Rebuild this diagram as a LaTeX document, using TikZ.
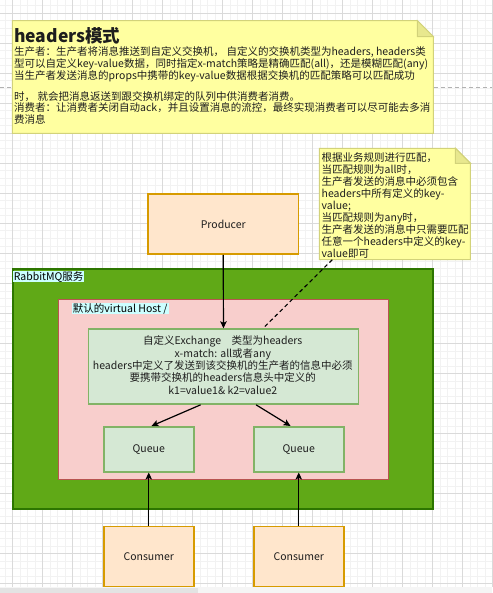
\documentclass[tikz,border=0pt]{standalone}
\usepackage{fontspec}
\setmainfont{Noto Sans CJK SC}
\usetikzlibrary{arrows.meta,calc}
\definecolor{gridmin}{HTML}{F2F2F2}
\definecolor{gridmaj}{HTML}{DADADA}
\definecolor{notefill}{HTML}{FFFFA0}
\definecolor{notestroke}{HTML}{D2D27A}
\definecolor{notefold}{HTML}{E8E88E}
\definecolor{grnfill}{HTML}{60A917}
\definecolor{grnstroke}{HTML}{2D7600}
\definecolor{pinkfill}{HTML}{F8CECC}
\definecolor{pinkstroke}{HTML}{B85450}
\definecolor{lgfill}{HTML}{D5E8D4}
\definecolor{lgstroke}{HTML}{82B366}
\definecolor{orfill}{HTML}{FFE6CC}
\definecolor{orstroke}{HTML}{D79B00}
\definecolor{labelbg}{HTML}{CCFFFF}
\definecolor{txt}{HTML}{1E1E1E}
\tikzset{
  box/.style={rectangle, inner sep=0, anchor=north west},
  orbox/.style={box, fill=orfill, draw=orstroke, line width=1.5pt},
  lgbox/.style={box, fill=lgfill, draw=lgstroke, line width=1.5pt},
  notearea/.style={box},
  arr/.style={line width=1.2pt, -{Stealth[length=7pt,width=6.5pt,inset=1.5pt]}},
  dashline/.style={line width=1.1pt, dash pattern=on 4pt off 3pt},
  lbl/.style={fill=labelbg, inner xsep=1pt, inner ysep=0.5pt, anchor=north west, font=\fontsize{10.5}{12}\selectfont},
  boxtext/.style={font=\fontsize{10.5}{12}\selectfont, text=txt},
}
\begin{document}
\begin{tikzpicture}[x=1pt,y=-1pt]
\useasboundingbox (0,0) rectangle (492,593);
\fill[white] (0,0) rectangle (492,593);
% grid
\foreach \i in {-1,...,64} {\draw[gridmin, line width=0.6pt] ({12.3+7.5*\i},0) -- ({12.3+7.5*\i},587);}
\foreach \i in {-1,...,76} {\draw[gridmin, line width=0.6pt] (0,{13.3+7.5*\i}) -- (492,{13.3+7.5*\i});}
\foreach \i in {0,...,16} {\draw[gridmaj, line width=0.8pt] ({12.3+30*\i},0) -- ({12.3+30*\i},587);}
\foreach \i in {0,...,19} {\draw[gridmaj, line width=0.8pt] (0,{13.3+30*\i}) -- (492,{13.3+30*\i});}
% page break line
\draw[gray!60, line width=0.8pt, dash pattern=on 4pt off 3pt] (0,87) -- (492,87);
% scrollbar strip
\fill[gray!8] (0,587) rectangle (492,593);
\fill[gray!22] (0,588) rectangle (198,593);

% note 1
\node[notearea, minimum width=420.7pt, minimum height=112.3pt] (note1) at (12.3,20.7) {};
\filldraw[fill=notefill, draw=notestroke, line width=1pt]
  (note1.north west) -- ($(note1.north east)+(-16,0)$) -- ($(note1.north east)+(0,16)$) -- (note1.south east) -- (note1.south west) -- cycle;
\filldraw[fill=notefold, draw=notestroke, line width=1pt]
  ($(note1.north east)+(-16,0)$) -- ($(note1.north east)+(-16,16)$) -- ($(note1.north east)+(0,16)$) -- cycle;
\node[anchor=base west, inner sep=0, text=txt, font=\bfseries\fontsize{17.5}{19}\selectfont] (title) at (14,43) {headers模式};
\node[anchor=north west, inner sep=0, align=left, text=txt, font=\fontsize{10.5}{11.7}\selectfont] (body1) at (14,46.5)
 {生产者：生产者将消息推送到自定义交换机， 自定义的交换机类型为headers, headers类\\
  型可以自定义key-value数据，同时指定x-match策略是精确匹配(all)，还是模糊匹配(any)\\
  当生产者发送消息的props中携带的key-value数据根据交换机的匹配策略可以匹配成功\\[9.3pt]
  时， 就会把消息返送到跟交换机绑定的队列中供消费者消费。\\
  消费者：让消费者关闭自动ack，并且设置消息的流控，最终实现消费者可以尽可能去多消\\
  费消息};

% note 2
\node[notearea, minimum width=150.7pt, minimum height=111pt] (note2) at (319.3,148.3) {};
\filldraw[fill=notefill, draw=notestroke, line width=1pt]
  (note2.north west) -- ($(note2.north east)+(-15,0)$) -- ($(note2.north east)+(0,15)$) -- (note2.south east) -- (note2.south west) -- cycle;
\filldraw[fill=notefold, draw=notestroke, line width=1pt]
  ($(note2.north east)+(-15,0)$) -- ($(note2.north east)+(-15,15)$) -- ($(note2.north east)+(0,15)$) -- cycle;
\node[anchor=north west, inner sep=0, align=left, text=txt, font=\fontsize{10.5}{12}\selectfont] (body2) at (321.5,152)
 {根据业务规则进行匹配，\\
  当匹配规则为all时，\\
  生产者发送的消息中必须包含\\
  headers中所有定义的key-\\
  value;\\
  当匹配规则为any时，\\
  生产者发送的消息中只需要匹配\\
  任意一个headers中定义的key-\\
  value即可};

% producer
\node[orbox, minimum width=150.4pt, minimum height=60pt] (prod) at (147.3,193.3) {};
\node[boxtext] at (prod.center) {Producer};

% RabbitMQ service
\node[box, fill=grnfill, draw=grnstroke, line width=1.2pt, minimum width=420pt, minimum height=240pt] (rmq) at (12.3,268.3) {};
\node[lbl] (rmqlbl) at (12.6,270.5) {RabbitMQ服务};

% virtual host
\node[box, fill=pinkfill, draw=pinkstroke, line width=1.2pt, minimum width=330pt, minimum height=180pt] (vh) at (58,299) {};
\node[lbl] (vhlbl) at (71.7,302.5) {默认的virtual Host /};

% exchange
\node[lgbox, minimum width=270pt, minimum height=75pt] (exch) at (87.7,328.3) {};
\node[boxtext, align=center, font=\fontsize{10.5}{12.3}\selectfont, anchor=north] (exchtxt) at (222.8,332.5)
 {自定义Exchange\quad 类型为headers\\
  x-match: all或者any\\
  headers中定义了发送到该交换机的生产者的信息中必须\\
  要携带交换机的headers信息头中定义的\\
  k1=value1\& k2=value2};

% queues
\node[lgbox, minimum width=90pt, minimum height=45pt] (q1) at (103,426) {};
\node[boxtext] at (q1.center) {Queue};
\node[lgbox, minimum width=90pt, minimum height=45pt] (q2) at (253,426) {};
\node[boxtext] at (q2.center) {Queue};

% consumers
\node[orbox, minimum width=90pt, minimum height=60pt] (c1) at (103,525.7) {};
\node[boxtext] at (c1.center) {Consumer};
\node[orbox, minimum width=90pt, minimum height=60pt] (c2) at (253,525.7) {};
\node[boxtext] at (c2.center) {Consumer};

% connectors
\draw[arr] (prod.south) -- (exch.north);
\draw[arr] ($(exch.south west)!0.416!(exch.south east)$) -- ($(q1.north west)!0.53!(q1.north east)$);
\draw[arr] ($(exch.south west)!0.62!(exch.south east)$) -- ($(q2.north west)!0.41!(q2.north east)$);
\draw[arr] (c1.north) -- (q1.south);
\draw[arr] (c2.north) -- (q2.south);
\draw[dashline] ($(note2.south west)+(13,0)$) -- ($(exch.north west)!0.646!(exch.north east)$);
\end{tikzpicture}
\end{document}
